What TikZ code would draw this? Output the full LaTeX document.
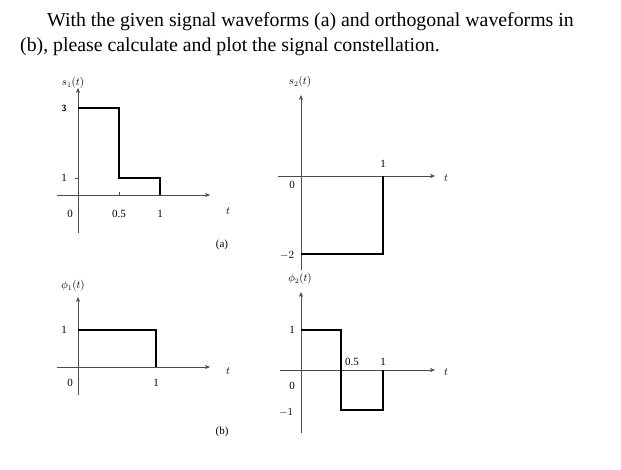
\documentclass[tikz,border=0pt]{standalone}
\usepackage{fontspec}
\setmainfont{Liberation Serif}
\usetikzlibrary{arrows.meta}
\begin{document}
\begin{tikzpicture}[x=1pt,y=-1pt,
  ax/.style={draw=black!70,line width=0.6pt,-{Stealth[length=5pt,width=4pt]}},
  wave/.style={draw=black,line width=1.4pt},
  lab/.style={font=\fontsize{11}{12}\selectfont,inner sep=0pt},
  fl/.style={font=\fontsize{10.5}{12}\selectfont,inner sep=0pt},
  ttl/.style={font=\fontsize{19.8}{22}\selectfont,inner sep=0pt,anchor=west}]
\useasboundingbox (0,0) rectangle (621,470);
\node[ttl] (t1) at (47,22) {With the given signal waveforms (a) and orthogonal waveforms in};
\node[ttl] (t2) at (20,47) {(b), please calculate and plot the signal constellation.};
% s1
\coordinate (a1b) at (78,233); \coordinate (a1t) at (78,88);
\coordinate (a1l) at (57,195); \coordinate (a1r) at (210,195);
\draw[ax] (a1b) -- (a1t); \draw[ax] (a1l) -- (a1r);
\draw[wave] (78,108) -- (119,108) -- (119,178) -- (160,178) -- (160,195);
\draw[black!70] (75,178) -- (78,178) (119,192)--(119,195);
\node[fl] (s1) at (73,83) {$s_1(t)$};
\node[lab,font=\fontsize{9}{10}\selectfont\bfseries\sffamily] (l3) at (64,108) {3};
\node[lab] (l1) at (64,178) {1};
\node[lab] (l0) at (70,214) {0};
\node[lab] (l05) at (119,214) {0.5};
\node[lab] (l1b) at (160,214) {1};
\node[fl] (tt1) at (228,211) {$t$};
\node[font=\fontsize{11}{12}\selectfont] (a) at (222,245) {(a)};
% s2
\coordinate (a2b) at (301,270); \coordinate (a2t) at (301,95);
\coordinate (a2l) at (278,176); \coordinate (a2r) at (435,176);
\draw[ax] (a2b) -- (a2t); \draw[ax] (a2l) -- (a2r);
\draw[wave] (301,254) -- (383,254) -- (383,176);
\node[fl] (s2) at (300,82) {$s_2(t)$};
\node[lab] (m1) at (383,164) {1};
\node[lab] (m0) at (292,185) {0};
\node[lab] (m2) at (287,255) {$-2$};
\node[fl] (tt2) at (446,178) {$t$};
% phi1
\coordinate (a3b) at (78,395); \coordinate (a3t) at (78,297);
\coordinate (a3l) at (57,367); \coordinate (a3r) at (210,367);
\draw[ax] (a3b) -- (a3t); \draw[ax] (a3l) -- (a3r);
\draw[wave] (78,330) -- (156,330) -- (156,367);
\node[fl] (p1) at (73,286) {$\phi_1(t)$};
\node[lab] (n1) at (64,330) {1};
\node[lab] (n0) at (70,383) {0};
\node[lab] (n1b) at (156,383) {1};
\node[fl] (tt3) at (228,371) {$t$};
\node[font=\fontsize{11}{12}\selectfont] (b) at (222,432) {(b)};
% phi2
\coordinate (a4b) at (301,433); \coordinate (a4t) at (301,292);
\coordinate (a4l) at (280,370); \coordinate (a4r) at (435,370);
\draw[ax] (a4b) -- (a4t); \draw[ax] (a4l) -- (a4r);
\draw[wave] (301,330) -- (341,330) -- (341,410) -- (383,410) -- (383,370);
\node[fl] (p2) at (300,279) {$\phi_2(t)$};
\node[lab] (q1) at (292,330) {1};
\node[lab] (q05) at (352,362) {0.5};
\node[lab] (q1b) at (383,362) {1};
\node[lab] (q0) at (292,386) {0};
\node[lab] (qm1) at (286,412) {$-1$};
\node[fl] (tt4) at (446,372) {$t$};
\end{tikzpicture}
\end{document}
